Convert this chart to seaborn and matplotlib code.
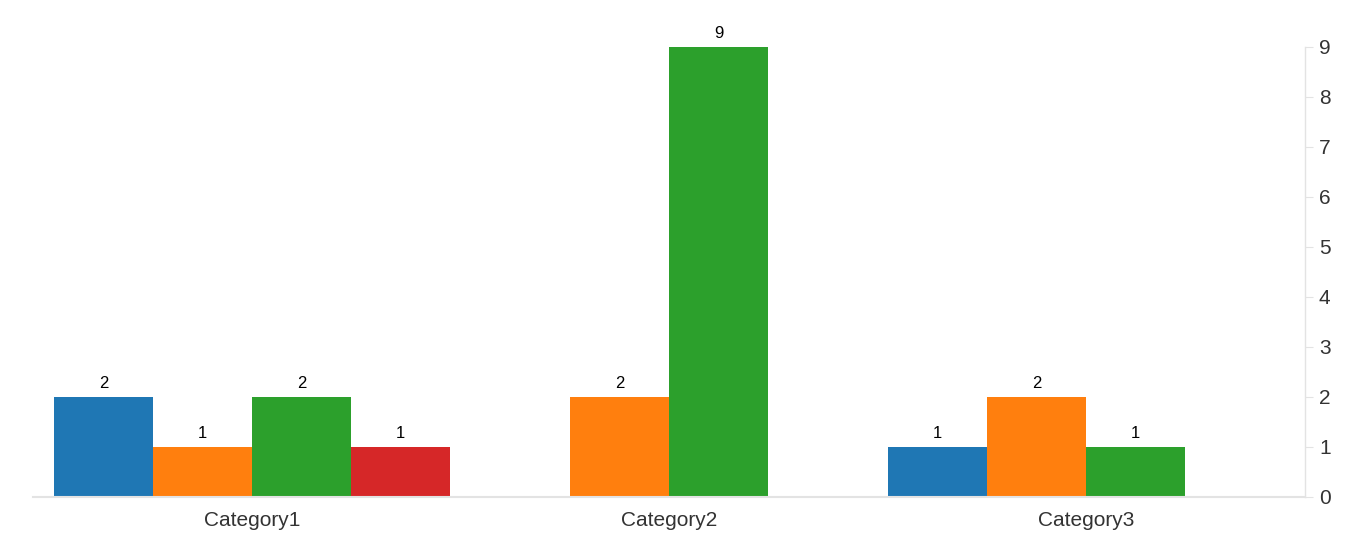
import pandas as pd
import numpy as np
import matplotlib
matplotlib.use("Agg")
import matplotlib.pyplot as plt
import seaborn as sns

# values (None = no bar)
categories = ["Category1", "Category2", "Category3"]
series_names = ["A", "B", "C", "D"]
values_a = [2, None, 1]
values_b = [1, 2, 2]
values_c = [2, 9, 1]
values_d = [1, None, None]
y_ticks = [0, 1, 2, 3, 4, 5, 6, 7, 8, 9]

colors = ["#1f77b4", "#ff7f0e", "#2ca02c", "#d62728"]

rows = []
for name, vals in zip(series_names, [values_a, values_b, values_c, values_d]):
    for cat, v in zip(categories, vals):
        if v is not None:
            rows.append({"category": cat, "series": name, "value": v})
df = pd.DataFrame(rows)

sns.set_style("white")
plt.rcParams["font.family"] = ["Liberation Sans", "DejaVu Sans"]

fig = plt.figure(figsize=(13.58, 5.45), dpi=100)
ax = fig.add_axes([33 / 1358, 48 / 545, 1272 / 1358, 450 / 545])

sns.barplot(data=df, x="category", y="value", hue="series",
            order=categories, hue_order=series_names, palette=colors,
            width=0.95, linewidth=0, saturation=1, legend=False, ax=ax)

for cont in ax.containers:
    ax.bar_label(cont, fmt="%g", padding=4, fontsize=12, color="black")

ax.set_xlim(-0.525, 2.525)
ax.set_ylim(0, 9)
ax.set_yticks(y_ticks)
ax.set_xlabel("")
ax.set_ylabel("")

# axis on the right, light grey lines
ax.yaxis.tick_right()
for side in ["left", "top"]:
    ax.spines[side].set_visible(False)
ax.spines["right"].set_color("#e3e3e3")
ax.spines["bottom"].set_color("#e3e3e3")
ax.spines["right"].set_linewidth(1)
ax.spines["bottom"].set_linewidth(1.5)
ax.tick_params(axis="y", direction="out", length=6, color="#e3e3e3",
               labelsize=15, labelcolor="#333333", pad=4)
ax.tick_params(axis="x", direction="out", length=5, color="#eeeeee",
               labelsize=15, labelcolor="#333333", pad=5)
ax.set_clip_on(False)

fig.savefig("out.png", dpi=100)
